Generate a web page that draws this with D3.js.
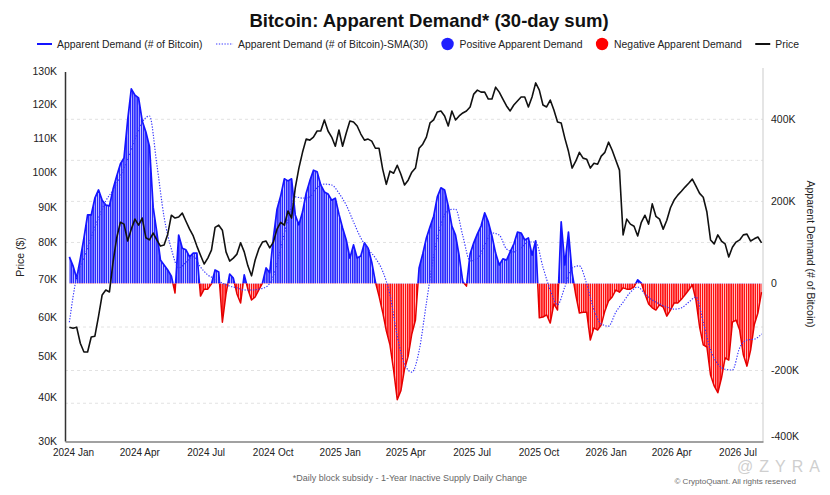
<!DOCTYPE html>
<html><head><meta charset="utf-8">
<script src="https://cdn.jsdelivr.net/npm/d3@7"></script>
<style>
body{margin:0;background:#fff;}
svg{display:block;font-family:"Liberation Sans",Arial,Helvetica,sans-serif;}
</style>
</head><body>
<svg id="chart" width="830" height="495"></svg>
<script>
// ---------------- DATA ----------------
const seriesStart = "2023-12-27";   // first sample date
const stepDays = 5;                  // demand & price sampled every 5 days
const smaStepDays = 10;              // SMA sampled every 10 days

// Apparent Demand (30-day sum), thousands of BTC
const demandK = [
  65, 43, 13, 60, 111, 167, 167, 208, 228, 203,
  191, 189, 230, 262, 291, 306, 398, 474, 459, 452,
  396, 369, 333, 186, 125, 57, 45, 33, 18, -22,
  118, 86, 82, 65, 74, 74, -29, -13, -13, -1,
  33, 28, -89, -24, 23, 13, -24, -45, 21, -13,
  -38, -31, -15, 1, 38, 26, 111, 181, 213, 255,
  250, 255, 167, 143, 174, 220, 250, 276, 272, 240,
  223, 218, 203, 208, 169, 135, 106, 62, 94, 62,
  67, 99, 86, 52, 4, -29, -66, -109, -141, -199,
  -289, -262, -197, -167, -116, -84, 38, 72, 111, 138,
  164, 211, 233, 228, 189, 140, 118, 67, 4, -6,
  72, 99, 121, 140, 172, 150, 116, 74, 45, 60,
  57, 77, 96, 125, 123, 106, 111, 69, 104, -79,
  -77, -72, -91, -47, -61, 150, 45, 125, 26, -26,
  -68, -66, -66, -130, -102, -107, -95, -63, -40, -31,
  -15, -20, -10, -13, -13, -8, 9, 1, -24, -47,
  -56, -61, -49, -54, -75, -61, -45, -45, -36, -26,
  -15, -3, -38, -100, -141, -146, -214, -247, -268, -223,
  -171, -176, -89, -84, -107, -164, -190, -153, -95, -68, -20
];

// Apparent Demand SMA(30), thousands of BTC (every 10 days)
const smaK = [
  -89, 16, 62, 113, 160, 201, 228, 262, 303, 352,
  393, 408, 291, 162, 84, 38, 52, 65, 40, 21,
  11, 1, -6, -10, -15, -15, -13, -8, 18, 86,
  155, 211, 208, 211, 233, 242, 240, 220, 191, 150,
  111, 84, 62, 30, -26, -121, -185, -205, -155, -45,
  67, 143, 179, 181, 116, 55, 60, 94, 123, 118,
  84, 77, 86, 101, 101, 40, -15, -49, -8, 38,
  43, -1, -61, -93, -98, -66, -43, -20, -8, -24,
  -38, -47, -54, -59, -56, -43, -31, -89, -153, -185,
  -197, -199, -148, -130, -128, -116
];

// BTC price, thousands of USD
const priceK = [
  57.4, 57.1, 57.4, 53.3, 51.1, 51.1, 54.9, 55.1, 60.2, 65.8,
  67.1, 66.6, 74.7, 81.3, 85.6, 85.1, 80.4, 83.7, 86.5, 84.8,
  86.8, 81.3, 80.7, 82.6, 80.7, 79.0, 79.3, 82.3, 87.6, 86.8,
  87.1, 88.2, 85.9, 83.7, 81.8, 79.0, 76.5, 74.1, 75.7, 77.9,
  84.2, 84.8, 83.4, 77.4, 74.9, 75.7, 76.8, 79.9, 77.4, 73.6,
  70.9, 75.2, 78.2, 80.1, 80.4, 78.5, 80.1, 83.7, 85.6, 84.8,
  88.8, 86.8, 95.3, 101.1, 105.7, 109.6, 109.3, 110.2, 112.0, 112.0,
  115.3, 112.0, 110.2, 107.5, 112.3, 107.5, 111.4, 115.0, 114.7, 113.5,
  111.1, 109.3, 109.6, 109.0, 106.9, 106.9, 100.8, 96.4, 100.2, 99.6,
  101.9, 99.3, 96.2, 97.6, 99.9, 101.1, 106.9, 108.1, 110.2, 114.4,
  115.3, 117.7, 118.0, 116.5, 113.5, 118.0, 115.3, 116.5, 117.4, 118.0,
  119.2, 123.1, 124.3, 123.7, 123.7, 121.6, 121.6, 125.2, 123.7, 121.6,
  119.5, 118.0, 119.8, 121.0, 122.2, 122.2, 119.2, 122.2, 126.5, 124.3,
  119.8, 119.2, 121.3, 118.3, 114.7, 114.4, 109.9, 106.0, 101.1, 103.1,
  105.7, 104.0, 103.7, 101.1, 102.5, 102.2, 104.6, 105.7, 108.7, 106.3,
  103.4, 100.5, 82.1, 86.5, 85.1, 84.5, 81.8, 85.6, 87.6, 85.1,
  90.8, 87.3, 86.5, 83.7, 86.2, 89.7, 91.9, 93.3, 94.4, 95.6,
  96.7, 97.9, 95.9, 93.8, 92.7, 88.5, 80.7, 79.6, 82.1, 80.4,
  79.6, 76.0, 78.7, 80.1, 80.7, 82.1, 82.3, 80.4, 81.0, 81.5, 79.9
];

const priceTicks = [30000, 40000, 50000, 60000, 70000, 80000, 90000, 100000, 110000, 120000, 130000];
const demandTicks = [-400000, -200000, 0, 200000, 400000];
const gridValues = [-300000, -200000, -100000, 100000, 200000, 300000, 400000];
const xDomain = ["2023-12-21", "2026-08-05"];

const legendItems = [
  {label: "Apparent Demand (# of Bitcoin)", kind: "line"},
  {label: "Apparent Demand (# of Bitcoin)-SMA(30)", kind: "dotted"},
  {label: "Positive Apparent Demand", kind: "dotBlue"},
  {label: "Negative Apparent Demand", kind: "dotRed"},
  {label: "Price", kind: "price"}
];

// ---------------- BUILD ----------------
const parse = d3.timeParse("%Y-%m-%d");
const start = parse(seriesStart);
const demand = demandK.map((v, i) => ({date: d3.timeDay.offset(start, i * stepDays), v: v * 1000}));
const sma = smaK.map((v, i) => ({date: d3.timeDay.offset(start, i * smaStepDays), v: v * 1000}));
const price = priceK.map((v, i) => ({date: d3.timeDay.offset(start, i * stepDays), v: v * 1000}));

const plot = {left: 65, right: 763, top: 68, bottom: 441.5};

const svg = d3.select("#chart");
const x = d3.scaleTime().domain(xDomain.map(parse)).range([plot.left, plot.right]);
const yP = d3.scalePow().exponent(0.78).domain([30000, 130000]).range([441, 71.5]);
const yD = d3.scaleLinear().domain([-400000, -200000, 0, 400000]).range([436, 370.5, 283.5, 119.3]);
const zeroY = yD(0);

const defs = svg.append("defs");
function stripes(id, bg, fg) {
  const p = defs.append("pattern").attr("id", id).attr("patternUnits", "userSpaceOnUse")
    .attr("width", 2.2).attr("height", 8);
  p.append("rect").attr("width", 2.2).attr("height", 8).attr("fill", bg);
  p.append("rect").attr("width", 1.45).attr("height", 8).attr("fill", fg);
}
stripes("bluePat", "#d6d6ff", "#2626ff");
stripes("redPat", "#ffd6d6", "#ff0e0e");

defs.append("clipPath").attr("id", "clipPlot").append("rect")
  .attr("x", plot.left).attr("y", plot.top).attr("width", plot.right - plot.left).attr("height", plot.bottom - plot.top);
defs.append("clipPath").attr("id", "clipPos").append("rect")
  .attr("x", plot.left).attr("y", plot.top).attr("width", plot.right - plot.left).attr("height", zeroY - plot.top);
defs.append("clipPath").attr("id", "clipNeg").append("rect")
  .attr("x", plot.left).attr("y", zeroY).attr("width", plot.right - plot.left).attr("height", plot.bottom - zeroY);

// gridlines
svg.append("g").selectAll("line").data(gridValues).join("line")
  .attr("x1", plot.left).attr("x2", plot.right)
  .attr("y1", d => yD(d)).attr("y2", d => yD(d))
  .attr("stroke", "#e2e2e2").attr("stroke-width", 1).attr("stroke-dasharray", "3,3");

// demand area + line
const area = d3.area().x(d => x(d.date)).y0(zeroY).y1(d => yD(d.v));
const dLine = d3.line().x(d => x(d.date)).y(d => yD(d.v));
const gPos = svg.append("g").attr("clip-path", "url(#clipPos)");
const gNeg = svg.append("g").attr("clip-path", "url(#clipNeg)");
gPos.append("path").datum(demand).attr("d", area).attr("fill", "url(#bluePat)");
gNeg.append("path").datum(demand).attr("d", area).attr("fill", "url(#redPat)");
gPos.append("path").datum(demand).attr("d", dLine).attr("fill", "none")
  .attr("stroke", "#1414ff").attr("stroke-width", 1.7).attr("stroke-linejoin", "round");
gNeg.append("path").datum(demand).attr("d", dLine).attr("fill", "none")
  .attr("stroke", "#e40000").attr("stroke-width", 1.5).attr("stroke-linejoin", "round");

const gMain = svg.append("g").attr("clip-path", "url(#clipPlot)");
// SMA dotted
gMain.append("path").datum(sma)
  .attr("d", d3.line().curve(d3.curveMonotoneX).x(d => x(d.date)).y(d => yD(d.v)))
  .attr("fill", "none").attr("stroke", "#3434ff").attr("stroke-width", 1.15)
  .attr("stroke-dasharray", "1.3,1.5");
// price
gMain.append("path").datum(price)
  .attr("d", d3.line().x(d => x(d.date)).y(d => yP(d.v)))
  .attr("fill", "none").attr("stroke", "#111").attr("stroke-width", 1.6).attr("stroke-linejoin", "round");

// axes
const fmtK = d => d === 0 ? "0" : (d / 1000) + "K";
const axL = svg.append("g").attr("transform", `translate(${plot.left},0)`)
  .call(d3.axisLeft(yP).tickValues(priceTicks).tickSize(0).tickPadding(8).tickFormat(fmtK));
axL.select(".domain").attr("stroke", "#333").attr("stroke-width", 1.5);
axL.selectAll("text").attr("font-size", 10.5).attr("fill", "#222").attr("font-family", "Liberation Sans, Arial, sans-serif");

const axR = svg.append("g").attr("transform", `translate(${plot.right},0)`)
  .call(d3.axisRight(yD).tickValues(demandTicks).tickSize(0).tickPadding(8).tickFormat(fmtK));
axR.select(".domain").attr("d", `M0,${plot.top}V${plot.bottom}`).attr("stroke", "#d4d4d4").attr("stroke-width", 1.2);
axR.selectAll("text").attr("font-size", 10.5).attr("fill", "#222").attr("font-family", "Liberation Sans, Arial, sans-serif");

const axB = svg.append("g").attr("transform", `translate(0,${plot.bottom})`)
  .call(d3.axisBottom(x).ticks(d3.timeMonth.every(3)).tickSize(0).tickPadding(7).tickFormat(d3.timeFormat("%Y %b")));
axB.select(".domain").attr("stroke", "#444").attr("stroke-width", 1.2);
axB.selectAll("text").attr("font-size", 10).attr("fill", "#222").attr("font-family", "Liberation Sans, Arial, sans-serif");

// axis titles
svg.append("text").attr("transform", "translate(24,257) rotate(-90)").attr("text-anchor", "middle")
  .attr("font-size", 10.5).attr("fill", "#222").text("Price ($)");
svg.append("text").attr("transform", "translate(807,254) rotate(90)").attr("text-anchor", "middle")
  .attr("font-size", 10.5).attr("fill", "#222").text("Apparent Demand (# of Bitcoin)");

// title
svg.append("text").attr("x", 429).attr("y", 27).attr("text-anchor", "middle")
  .attr("font-size", 18.5).attr("font-weight", "bold").attr("fill", "#111")
  .text("Bitcoin: Apparent Demand* (30-day sum)");

// legend
const lg = svg.append("g").attr("font-size", 10.4).attr("fill", "#222");
let lx = 37; const ly = 44;
legendItems.forEach((it) => {
  if (it.kind === "line" || it.kind === "price") {
    lg.append("line").attr("x1", lx).attr("x2", lx + 15).attr("y1", ly).attr("y2", ly)
      .attr("stroke", it.kind === "line" ? "#1414ff" : "#111").attr("stroke-width", 2);
    lx += 20;
  } else if (it.kind === "dotted") {
    lg.append("line").attr("x1", lx).attr("x2", lx + 17).attr("y1", ly).attr("y2", ly)
      .attr("stroke", "#3434ff").attr("stroke-width", 1.2).attr("stroke-dasharray", "1.3,1.5");
    lx += 22;
  } else {
    lg.append("circle").attr("cx", lx + 6).attr("cy", ly).attr("r", 6.2)
      .attr("fill", it.kind === "dotBlue" ? "#1f1fff" : "#ff0000");
    lx += 18;
  }
  const t = lg.append("text").attr("x", lx).attr("y", ly + 3.8).text(it.label);
  lx += t.node().getComputedTextLength() + 13.5;
});

// footnote & credits
svg.append("text").attr("x", 410).attr("y", 481).attr("text-anchor", "middle")
  .attr("font-size", 9).attr("fill", "#666").text("*Daily block subsidy - 1-Year Inactive Supply Daily Change");
svg.append("text").attr("x", 737).attr("y", 472).attr("font-size", 16).attr("fill", "#cfcfcf")
  .attr("letter-spacing", 6).text("@ZYRA");
svg.append("text").attr("x", 796).attr("y", 484).attr("text-anchor", "end")
  .attr("font-size", 8).attr("fill", "#666").text("© CryptoQuant. All rights reserved");
</script>
</body></html>
